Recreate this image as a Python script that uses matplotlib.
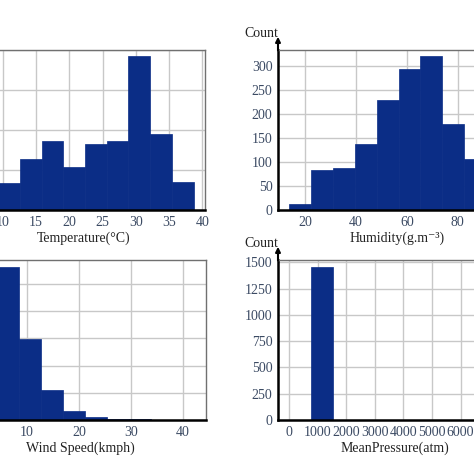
import matplotlib
matplotlib.use("Agg")
import matplotlib.pyplot as plt
import numpy as np

plt.rcParams['font.family'] = ['Liberation Serif', 'DejaVu Serif']

temp_edges = [6.0 + 3.27 * k for k in range(11)]
temp_counts = [40, 67, 127, 173, 108, 165, 173, 385, 189, 71]
hum_edges = [13.4 + 8.66 * k for k in range(11)]
hum_counts = [13, 83, 87, 137, 229, 294, 321, 180, 107, 11]
wind_edges = [0.0 + 4.22 * k for k in range(11)]
wind_counts = [436, 563, 299, 109, 34, 11, 5, 3, 0, 1]
pres_edges = [-3 + 768.2 * k for k in range(11)]
pres_counts = [2, 1458, 0, 0, 0, 0, 0, 0, 0, 1]

W = 474.0
fig = plt.figure(figsize=(4.74, 4.74), dpi=100)

def ax_px(l, r, t, b):
    return fig.add_axes([l / W, 1 - b / W, (r - l) / W, (b - t) / W])

BAR = '#0b2d86'
TICKC = '#3b4a63'

def style(ax, xlim, ylim, xticks, yticks, xlabel, count_label=True):
    ax.set_xlim(*xlim); ax.set_ylim(*ylim)
    ax.set_xticks(xticks); ax.set_yticks(yticks)
    ax.grid(True, color='#c8c8c8', lw=1.0)
    ax.set_axisbelow(True)
    for s in ['top', 'right']:
        ax.spines[s].set_color('#707070'); ax.spines[s].set_linewidth(1.0)
    for s in ['left', 'bottom']:
        ax.spines[s].set_color('black'); ax.spines[s].set_linewidth(1.8)
    ax.tick_params(length=0, labelsize=10, colors=TICKC, pad=4)
    ax.set_xlabel(xlabel, fontsize=10, color='#222222', labelpad=2)
    if count_label:
        ax.annotate('', xy=(0, 1.1), xytext=(0, 0.98), xycoords='axes fraction',
                    arrowprops=dict(arrowstyle='-|>', color='black', lw=1.5,
                                    mutation_scale=7), annotation_clip=False)
        ax.text(0.0, 1.1, 'Count', transform=ax.transAxes, ha='right', va='center',
                fontsize=10, color='#222222')

def bars(ax, edges, counts):
    ax.hist(edges[:-1], bins=edges, weights=counts, color=BAR, edgecolor=BAR, lw=0.5)

a1 = ax_px(-37, 205, 50, 210)
bars(a1, temp_edges, temp_counts)
style(a1, (4, 40.4), (0, 400), [5, 10, 15, 20, 25, 30, 35, 40], [0, 100, 200, 300, 400], 'Temperature(°C)')

a2 = ax_px(278, 516, 50, 210)
bars(a2, hum_edges, hum_counts)
style(a2, (9.2, 103), (0, 333), [20, 40, 60, 80, 100], [0, 50, 100, 150, 200, 250, 300], 'Humidity(g.m⁻³)')

a3 = ax_px(-46, 206, 260, 420)
bars(a3, wind_edges, wind_counts)
style(a3, (-4, 44.4), (0, 588), [0, 10, 20, 30, 40], [0, 100, 200, 300, 400, 500], 'Wind Speed(kmph)')

a4 = ax_px(278, 512, 260, 420)
bars(a4, pres_edges, pres_counts)
style(a4, (-384, 7800), (0, 1522), [0, 1000, 2000, 3000, 4000, 5000, 6000, 7000],
      [0, 250, 500, 750, 1000, 1250, 1500], 'MeanPressure(atm)')

fig.savefig('out.png', dpi=100)
